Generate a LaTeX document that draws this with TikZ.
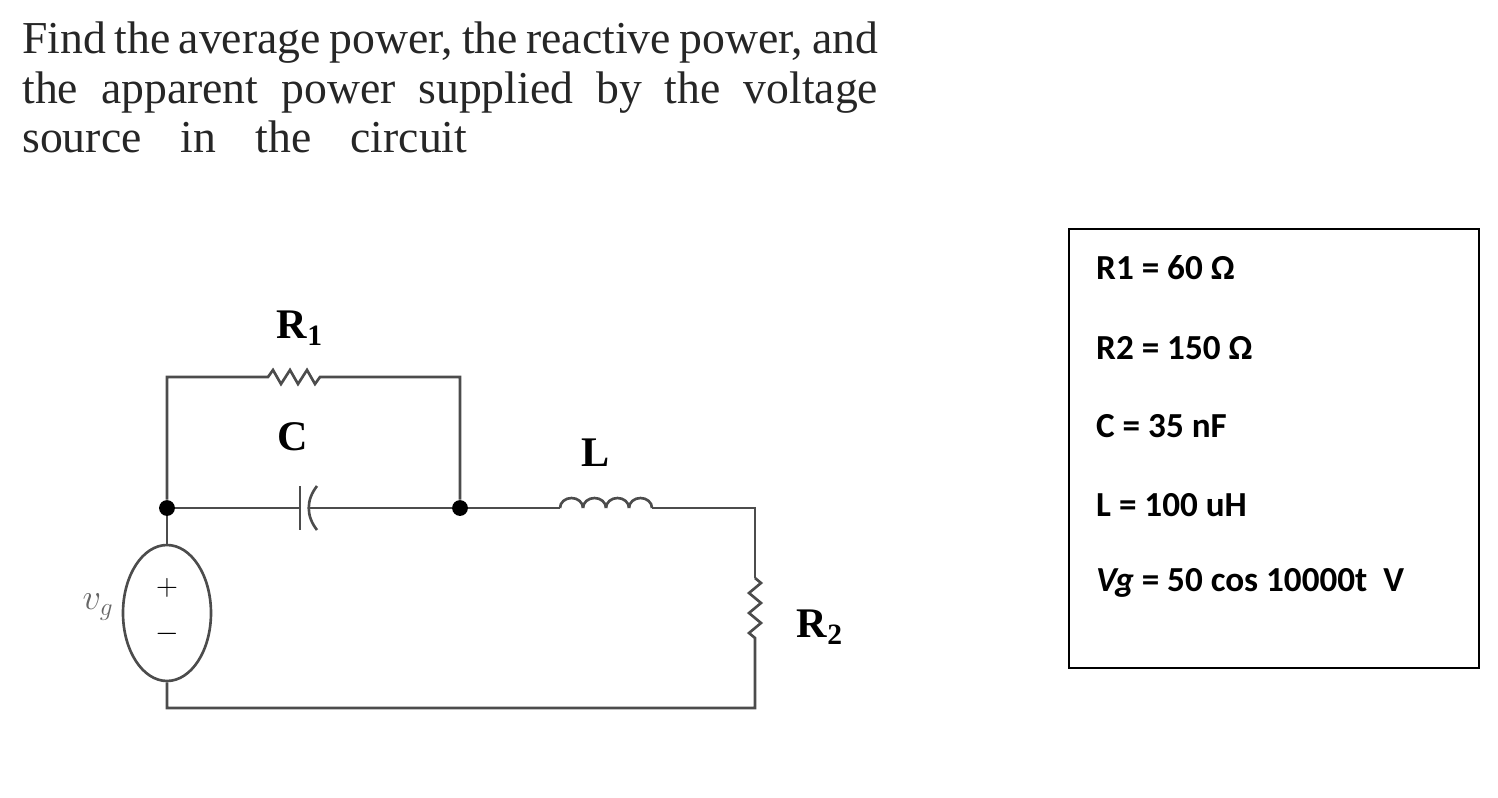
\documentclass[tikz,border=0pt]{standalone}
\usepackage{fontspec}
\setmainfont{Liberation Serif}
\newfontfamily\calib{Carlito}
\usetikzlibrary{shapes.geometric}
\begin{document}
\begin{tikzpicture}[x=0.02cm,y=-0.02cm]
    \tikzstyle{wire}=[draw=black!70, line width=1.5pt]
    \tikzstyle{dot}=[circle, fill=black, inner sep=0pt, minimum size=9pt]
    \tikzstyle{lbl}=[font=\fontsize{24}{24}\selectfont\bfseries]
    \tikzstyle{val}=[font=\calib\fontsize{20}{20}\selectfont\bfseries, anchor=west]
    \tikzstyle{ttl}=[anchor=base west, inner sep=0pt, font=\fontsize{26}{26}\selectfont, text=black!85]
    \useasboundingbox (0,0) rectangle (1498,798);

    % problem text
    \node[ttl] (t1) at (22,53) {\makebox[17.12cm][s]{Find the average power, the reactive power, and}};
    \node[ttl] (t2) at (22,103) {\makebox[17.12cm][s]{the apparent power supplied by the voltage}};
    \node[ttl] (t3) at (22,152) {\makebox[8.9cm][s]{source in the circuit}};

    % circuit corners
    \coordinate (tl) at (167,377);
    \coordinate (tr) at (460,377);
    \node[dot] (a) at (167,508) {};
    \node[dot] (b) at (460,508) {};
    \coordinate (br) at (755,508);
    \coordinate (bl) at (167,708);
    \coordinate (brr) at (755,708);

    % source
    \node[wire, ellipse, minimum width=1.76cm, minimum height=2.72cm, inner sep=0pt] (vs) at (167,613) {};
    \node (plus) at (167,588) {\fontsize{18}{18}\selectfont$+$};
    \node (minus) at (167,634) {\fontsize{18}{18}\selectfont$-$};
    \node[font=\fontsize{22}{22}\selectfont, text=black!60] (vg) at (98,607) {$v_g$};

    % R1
    \coordinate (r1a) at (268,377);
    \coordinate (r1b) at (327,377);
    \draw[wire] (a) -- (tl) -- (r1a) -- ++(5,-7) -- ++(8,14) -- ++(9,-14) -- ++(8,14) -- ++(9,-14) -- ++(8,14) -- ++(5,-7) -- (r1b) -- (tr) -- (b);
    \node[lbl] (lr1) at (300,328) {R\textsubscript{1}};

    % C
    \coordinate (c1) at (300,508);
    \draw[wire] (a) -- (c1);
    \draw[wire] (c1) ++(0,-22) -- ++(0,44);
    \draw[wire] (317,486) .. controls (306,500) and (306,516) .. (317,530);
    \draw[wire] (309,508) -- (b);
    \node[lbl] (lc) at (293,437) {C};

    % L
    \coordinate (l1) at (560,508);
    \coordinate (l2) at (652,508);
    \draw[wire] (b) -- (l1);
    \foreach \i in {0,1,2,3} {
        \draw[wire] (560+23*\i,508) arc (180:360:11.5 and 10);
    }
    \draw[wire] (l2) -- (br) -- (755,578);
    \node[lbl] (ll) at (596,453) {L};

    % R2
    \draw[wire] (755,578) -- ++(6,5) -- ++(-12,10) -- ++(12,10) -- ++(-12,10) -- ++(12,10) -- ++(-12,10) -- ++(6,5) -- (brr) -- (bl) -- (vs.south);
    \draw[wire] (a) -- (vs.north);
    \node[lbl] (lr2) at (820,627) {R\textsubscript{2}};

    % values
    \node[draw=black, line width=0.8pt, minimum width=8.2cm, minimum height=8.78cm, inner sep=0pt] (box) at (1274,448.5) {};
    \node[val] (v1) at (1090,268) {R1 = 60 Ω};
    \node[val] (v2) at (1090,348) {R2 = 150 Ω};
    \node[val] (v3) at (1090,426) {C = 35 nF};
    \node[val] (v4) at (1090,505) {L = 100 uH};
    \node[val] (v5) at (1090,583) {\textit{Vg} = 50 cos 10000t\ \ V};
\end{tikzpicture}
\end{document}
